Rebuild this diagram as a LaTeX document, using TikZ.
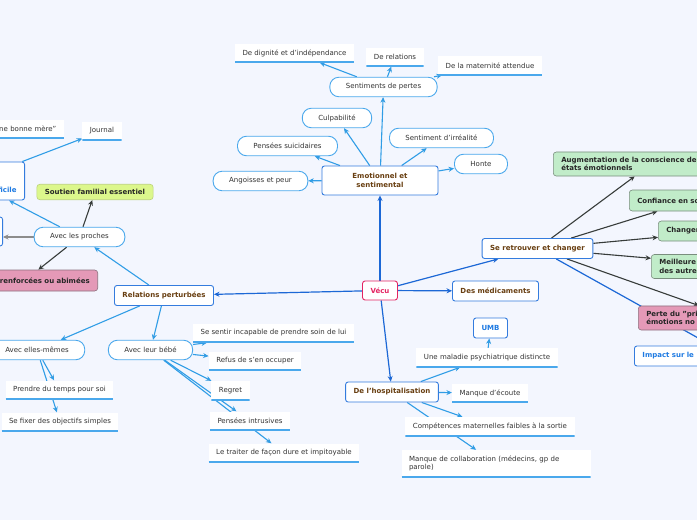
\documentclass[tikz,border=0pt]{standalone}
\usepackage{fontspec}
\setmainfont{DejaVu Sans}
\usetikzlibrary{arrows,arrows.meta,backgrounds}
\definecolor{bgcol}{RGB}{243,246,254}
\definecolor{linkdark}{RGB}{28,104,214}
\definecolor{linklight}{RGB}{48,157,230}
\definecolor{pillblue}{RGB}{74,168,236}
\definecolor{topicblue}{RGB}{52,124,222}
\definecolor{topicbrown}{RGB}{104,62,16}
\definecolor{txtgray}{RGB}{51,51,51}
\definecolor{vecured}{RGB}{228,36,98}
\definecolor{gfill}{RGB}{193,236,201}
\definecolor{gborder}{RGB}{122,142,126}
\definecolor{pfill}{RGB}{228,153,183}
\definecolor{pborder}{RGB}{140,112,126}
\definecolor{yfill}{RGB}{220,247,140}
\definecolor{infoblue}{RGB}{30,122,226}
\definecolor{greylink}{RGB}{140,140,140}
\definecolor{blacklink}{RGB}{55,60,58}
\tikzset{every node/.style={font=\fontsize{7}{8.6}\selectfont, text=txtgray},
boldfont/.style={font=\fontsize{7}{8.6}\selectfont\bfseries},
root/.style={draw=vecured, line width=0.9pt, fill=white, rounded corners=2.5pt,
  minimum height=19pt, inner xsep=8pt, boldfont, text=vecured},
topic/.style={draw=topicblue, line width=0.9pt, fill=white, rounded corners=2.5pt,
  minimum height=20pt, inner xsep=8pt, boldfont, text=topicbrown},
info/.style={topic, text=infoblue},
pill/.style={draw=pillblue, line width=0.9pt, fill=white, rounded corners=9pt,
  minimum height=19.5pt, inner xsep=16pt},
leaf/.style={fill=white, minimum height=19pt, inner xsep=7.5pt,
  path picture={\draw[pillblue, line width=2.4pt] (path picture bounding box.south west)
  -- (path picture bounding box.south east);}},
gbox/.style={draw=gborder, line width=0.6pt, fill=gfill, rounded corners=3pt,
  inner xsep=8pt, inner ysep=5pt, boldfont, text=black!85, align=left},
pbox/.style={gbox, draw=pborder, fill=pfill},
ybox/.style={gbox, draw=yfill!85!black, fill=yfill, align=center},
mainlink/.style={draw=linkdark, line width=1.2pt},
sublink/.style={draw=linklight, line width=1.1pt},
darklink/.style={draw=blacklink, line width=1.1pt},
greyarrow/.style={draw=greylink, line width=1.1pt}
}
\begin{document}
\begin{tikzpicture}[> = {Stealth[length=5.5pt,width=5pt]}, x=1pt, y=-1pt]
    \useasboundingbox (0,0) rectangle (697,520);
    % centre and main topics
    \node[root] (vecu) at (380,290.5) {Vécu};
    \node[topic, align=center, minimum width=116pt, minimum height=29pt] (emo) at (380,180.5) {Emotionnel et\\sentimental};
    \node[topic] (rel) at (164,295.5) {Relations perturbées};
    \node[topic] (med) at (495.5,291) {Des médicaments};
    \node[topic] (hosp) at (392,392) {De l'hospitalisation};
    \node[topic] (sret) at (537.5,248.5) {Se retrouver et changer};
    % emotionnel et sentimental
    \node[pill] (ang) at (260.5,181) {Angoisses et peur};
    \node[pill] (sui) at (287.5,146) {Pensées suicidaires};
    \node[pill] (cul) at (337,118) {Culpabilité};
    \node[pill] (pert) at (383.5,87) {Sentiments de pertes};
    \node[pill] (irr) at (441.5,138) {Sentiment d'irréalité};
    \node[pill] (honte) at (481,164) {Honte};
    \node[leaf] (dign) at (294.5,53) {De dignité et d'indépendance};
    \node[leaf] (rels) at (395,57) {De relations};
    \node[leaf] (mat) at (490,65.5) {De la maternité attendue};
    % relations perturbees
    \node[pill] (proches) at (79.5,237) {Avec les proches};
    \node[pill] (elles) at (37,350) {Avec elles-mêmes};
    \node[pill] (bebe) at (150.5,350) {Avec leur bébé};
    \node[ybox] (soutien) at (95,192) {Soutien familial essentiel};
    \node[pbox, anchor=east, text width=130pt, align=right, minimum height=21pt] (renf) at (98,280.5) {renforcées ou abimées};
    \node[info, anchor=east, text width=90pt, align=right, text height=26pt, text depth=4pt, inner ysep=4pt] (diff) at (25,181) {difficile};
    \node[topic, anchor=east, minimum width=60pt, minimum height=29pt] (unk) at (3,231.5) {};
    \node[leaf] (journal) at (102,131) {Journal};
    \node[leaf, anchor=east, text width=80pt, align=right] (bonne) at (64,129) {une bonne mère"};
    \node[leaf] (temps) at (59.5,390) {Prendre du temps pour soi};
    \node[leaf] (fixer) at (60,422) {Se fixer des objectifs simples};
    \node[leaf] (sentir) at (273.5,333) {Se sentir incapable de prendre soin de lui};
    \node[leaf] (refus) at (255,361) {Refus de s'en occuper};
    \node[leaf] (regret) at (230.5,390.5) {Regret};
    \node[leaf] (intr) at (250,421) {Pensées intrusives};
    \node[leaf] (traiter) at (284,453) {Le traiter de façon dure et impitoyable};
    % hospitalisation
    \node[leaf] (maladie) at (487,357.5) {Une maladie psychiatrique distincte};
    \node[info, minimum height=20pt] (umb) at (490.5,328) {UMB};
    \node[leaf] (ecoute) at (490,393) {Manque d'écoute};
    \node[leaf] (comp) at (490,426.5) {Compétences maternelles faibles à la sortie};
    \node[leaf, text width=174pt, align=left, minimum height=27pt] (collab) at (496,463.5) {Manque de collaboration (médecins, gp de\\parole)};
    % se retrouver et changer
    \node[gbox, anchor=west, text width=180pt] (aug) at (553,164) {Augmentation de la conscience de ses\\états émotionnels};
    \node[gbox, anchor=west, text width=110pt, minimum height=21pt] (conf) at (629,200.5) {Confiance en soi};
    \node[gbox, anchor=west, text width=120pt, minimum height=20pt] (chgr) at (658,231) {Changer};
    \node[gbox, anchor=west, text width=175pt] (meil) at (651,266.5) {Meilleure\\des autres};
    \node[pbox, anchor=west, text width=175pt] (perte) at (638,318) {Perte du "pri\\émotions no};
    \node[info, anchor=west, text width=176pt, align=left] (impact) at (634,356) {Impact sur le};
    \begin{scope}[on background layer]
    \fill[bgcol] (0,0) rectangle (697,520);
    \path[->, mainlink] (vecu) edge (emo)
        (vecu) edge (rel)
        (vecu) edge (med)
        (vecu) edge (hosp)
        (vecu) edge (sret)
        (sret) edge (impact);
    \path[->, sublink] (emo) edge (ang)
        (emo) edge (sui)
        (emo) edge (cul)
        (emo) edge (pert)
        (emo) edge (irr)
        (emo) edge (honte)
        (pert) edge (dign)
        (pert) edge (rels)
        (pert) edge (mat)
        (rel) edge (proches)
        (rel) edge (elles)
        (rel) edge (bebe)
        (proches) edge (diff)
        (diff) edge (journal)
        (elles) edge (temps)
        (elles) edge (fixer)
        (bebe) edge ([xshift=14pt]sentir.south west)
        (bebe) edge (refus)
        (bebe) edge (regret)
        (bebe) edge (intr)
        (bebe) edge (traiter)
        (hosp) edge (maladie)
        (maladie) edge (umb)
        (hosp) edge (ecoute)
        (hosp) edge (comp)
        (hosp) edge (collab);
    \path[->, darklink] (proches) edge (soutien)
        (proches) edge (renf)
        (sret) edge (aug)
        (sret) edge (conf)
        (sret) edge (chgr)
        (sret) edge (meil)
        (sret) edge (perte);
    \path[->, greyarrow] (proches) edge (unk.east |- proches);
    \end{scope}
\end{tikzpicture}
\end{document}
